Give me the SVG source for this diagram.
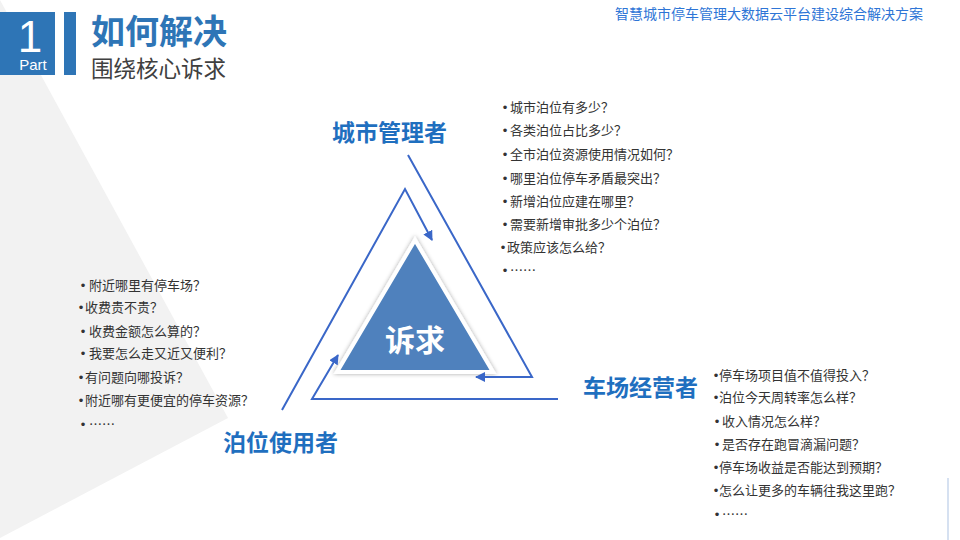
<svg xmlns="http://www.w3.org/2000/svg" width="960" height="540" viewBox="0 0 960 540">
  <defs>
    <style>
      .cjk { font-family: "Noto Sans CJK SC", "Noto Sans", sans-serif; }
      .role { font-family: "Noto Sans CJK SC", sans-serif; font-size: 23px; font-weight: bold; fill: #1f6fbf; }
      .q { font-family: "Noto Sans CJK SC", sans-serif; font-size: 13px; fill: #333333; }
      .b { font-family: "Liberation Sans", sans-serif; text-anchor: middle; }
      .conn { fill: none; stroke: #3a67c8; stroke-width: 2; stroke-linejoin: miter; }
    </style>
    <marker id="arr" viewBox="0 0 10 10" refX="9" refY="5" markerWidth="5" markerHeight="5" orient="auto" markerUnits="strokeWidth">
      <path d="M0,0 L10,5 L0,10 z" fill="#3a67c8"/>
    </marker>
    <filter id="sh" x="-20%" y="-20%" width="140%" height="140%">
      <feDropShadow dx="0" dy="0" stdDeviation="2" flood-color="#000000" flood-opacity="0.35"/>
    </filter>
  </defs>

  <rect width="960" height="540" fill="#ffffff"/>
  <polygon points="0,0 228,418 0,538" fill="#f2f2f2"/>
  <line x1="948" y1="478" x2="948" y2="540" stroke="#c9d7ec" stroke-width="1.5"/>

  <g id="header">
    <rect x="0" y="12" width="55" height="63" fill="#2e75b6"/>
    <rect x="64" y="12" width="12" height="63" fill="#2e75b6"/>
    <text x="30" y="52" font-family="Liberation Sans, sans-serif" font-size="44" fill="#ffffff" text-anchor="middle">1</text>
    <text x="33" y="70" font-family="Liberation Sans, sans-serif" font-size="15" fill="#ffffff" text-anchor="middle">Part</text>
    <text x="91" y="43.5" class="cjk" font-size="34" font-weight="bold" fill="#2e75b6">如何解决</text>
    <text x="91" y="76.5" class="cjk" font-size="22.5" fill="#404040">围绕核心诉求</text>
  </g>

  <g id="doc-title">
    <text x="615" y="19" class="cjk" font-size="14" fill="#2e75d6">智慧城市停车管理大数据云平台建设综合解决方案</text>
  </g>

  <g id="core">
    <polygon points="415,240 337,372 493,372" fill="#4f81bd" stroke="#ffffff" stroke-width="4" stroke-linejoin="miter" filter="url(#sh)"/>
    <text x="415" y="351" class="cjk" font-size="30" font-weight="bold" fill="#ffffff" text-anchor="middle">诉求</text>
  </g>

  <g id="connectors">
    <polyline class="conn" points="408,155 532,377 476,377" marker-end="url(#arr)"/>
    <polyline class="conn" points="282,410 405,189 432,240" marker-end="url(#arr)"/>
    <polyline class="conn" points="558,399 312,399 338,355" marker-end="url(#arr)"/>
  </g>

  <g id="city-manager">
    <text x="332" y="140.5" class="role">城市管理者</text>
    <text class="q" y="112"><tspan class="b" x="505">•</tspan><tspan x="510">城市泊位有多少？</tspan></text>
    <text class="q" y="135"><tspan class="b" x="505">•</tspan><tspan x="510">各类泊位占比多少？</tspan></text>
    <text class="q" y="159"><tspan class="b" x="505">•</tspan><tspan x="510">全市泊位资源使用情况如何？</tspan></text>
    <text class="q" y="183"><tspan class="b" x="505">•</tspan><tspan x="510">哪里泊位停车矛盾最突出？</tspan></text>
    <text class="q" y="206"><tspan class="b" x="505">•</tspan><tspan x="510">新增泊位应建在哪里？</tspan></text>
    <text class="q" y="229"><tspan class="b" x="505">•</tspan><tspan x="510">需要新增审批多少个泊位？</tspan></text>
    <text class="q" y="252"><tspan class="b" x="503">•</tspan><tspan x="507">政策应该怎么给？</tspan></text>
    <text class="q" y="275"><tspan class="b" x="505">•</tspan><tspan x="510">……</tspan></text>
  </g>

  <g id="parking-user">
    <text x="223" y="450.5" class="role">泊位使用者</text>
    <text class="q" y="290"><tspan class="b" x="83">•</tspan><tspan x="89">附近哪里有停车场？</tspan></text>
    <text class="q" y="312"><tspan class="b" x="81">•</tspan><tspan x="85">收费贵不贵？</tspan></text>
    <text class="q" y="336"><tspan class="b" x="83">•</tspan><tspan x="89">收费金额怎么算的？</tspan></text>
    <text class="q" y="358"><tspan class="b" x="83">•</tspan><tspan x="89">我要怎么走又近又便利？</tspan></text>
    <text class="q" y="382"><tspan class="b" x="81">•</tspan><tspan x="85">有问题向哪投诉？</tspan></text>
    <text class="q" y="405"><tspan class="b" x="81">•</tspan><tspan x="85">附近哪有更便宜的停车资源？</tspan></text>
    <text class="q" y="429"><tspan class="b" x="83">•</tspan><tspan x="89">……</tspan></text>
  </g>

  <g id="lot-operator">
    <text x="583" y="395.5" class="role">车场经营者</text>
    <text class="q" y="380"><tspan class="b" x="716">•</tspan><tspan x="719">停车场项目值不值得投入？</tspan></text>
    <text class="q" y="402"><tspan class="b" x="716">•</tspan><tspan x="719">泊位今天周转率怎么样？</tspan></text>
    <text class="q" y="426"><tspan class="b" x="717">•</tspan><tspan x="722">收入情况怎么样？</tspan></text>
    <text class="q" y="449"><tspan class="b" x="717">•</tspan><tspan x="722">是否存在跑冒滴漏问题？</tspan></text>
    <text class="q" y="472"><tspan class="b" x="716">•</tspan><tspan x="719">停车场收益是否能达到预期？</tspan></text>
    <text class="q" y="495"><tspan class="b" x="716">•</tspan><tspan x="719">怎么让更多的车辆往我这里跑？</tspan></text>
    <text class="q" y="519"><tspan class="b" x="717">•</tspan><tspan x="722">……</tspan></text>
  </g>
</svg>
